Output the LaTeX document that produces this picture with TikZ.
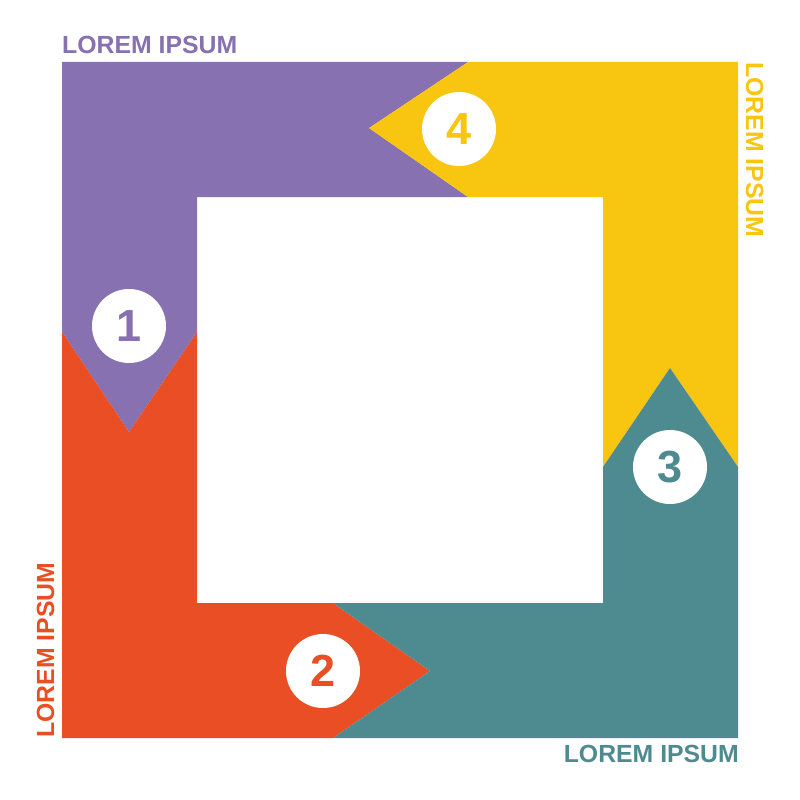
\documentclass[tikz,border=0pt]{standalone}
\usepackage{fontspec}
\setmainfont{Liberation Sans}
\definecolor{cpurple}{HTML}{8771B1}
\definecolor{cyellow}{HTML}{F8C511}
\definecolor{cred}{HTML}{E94E24}
\definecolor{cteal}{HTML}{4E8B91}
\begin{document}
\begin{tikzpicture}[x=1pt,y=-1pt,
  numcircle/.style={circle,fill=white,minimum size=74pt,inner sep=0pt,font=\fontsize{45}{45}\selectfont\bfseries},
  label/.style={font=\fontsize{24.8}{24.8}\selectfont\bfseries,inner sep=0pt}]
\useasboundingbox (0,0) rectangle (800,800);
\fill[white] (0,0) rectangle (800,800);
% purple
\fill[cpurple] (62,62) -- (468,62) -- (369,128) -- (468,197) -- (197,197) -- (197,332) -- (129,432) -- (62,332) -- cycle;
% yellow
\fill[cyellow] (468,62) -- (738,62) -- (738,467) -- (670,368) -- (603,467) -- (603,197) -- (468,197) -- (369,128) -- cycle;
% red
\fill[cred] (62,332) -- (129,432) -- (197,332) -- (197,603) -- (333,603) -- (430,671) -- (333,738) -- (62,738) -- cycle;
% teal
\fill[cteal] (333,603) -- (603,603) -- (603,467) -- (670,368) -- (738,467) -- (738,738) -- (333,738) -- (430,671) -- cycle;
% circles
\node[numcircle,text=cpurple] (n1) at (129,326) {1};
\node[numcircle,text=cred] (n2) at (323,671) {2};
\node[numcircle,text=cteal] (n3) at (670,467) {3};
\node[numcircle,text=cyellow] (n4) at (459,129) {4};
% labels
\node[label,text=cpurple,anchor=base west] (l1) at (62,54) {LOREM IPSUM};
\node[label,text=cyellow,anchor=base west,rotate=-90] (l4) at (746,62) {LOREM IPSUM};
\node[label,text=cred,anchor=base west,rotate=90] (l2) at (54,738) {LOREM IPSUM};
\node[label,text=cteal,anchor=base east] (l3) at (739,762) {LOREM IPSUM};
\end{tikzpicture}
\end{document}
